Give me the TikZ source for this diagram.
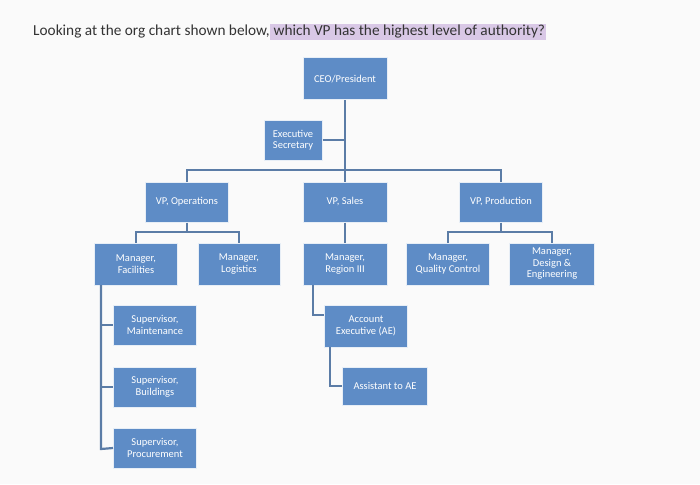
\documentclass[tikz,border=0pt]{standalone}
\usepackage{fontspec}
\setmainfont{Carlito}
\definecolor{boxb}{HTML}{5E8CC6}
\definecolor{lineb}{HTML}{5B7CA6}
\definecolor{hl}{HTML}{D9C8E6}
\begin{document}
\begin{tikzpicture}[x=1pt,y=-1pt,
  box/.style={draw=white!85!boxb,line width=1pt,fill=boxb,text=white,font=\fontsize{10.5}{11.5}\selectfont,align=center,minimum height=40pt,inner sep=1pt},
  ln/.style={draw=lineb,line width=2.2pt}]
\fill[white!96!gray] (0,0) rectangle (700,484);
\node[anchor=west,font=\fontsize{15.3}{17}\selectfont,text=black!80,inner sep=0] (q) at (33,32) {Looking at the org chart shown below,};
\node[anchor=west,font=\fontsize{15.3}{17}\selectfont,text=black!80,fill=hl,inner sep=1pt] (qh) at (q.east) {\,which VP has the highest level of authority?};
\node[box,minimum width=84pt,minimum height=42pt] (ceo) at (345,79) {CEO/President};
\node[box,minimum width=58pt] (es) at (293,140) {Executive\\Secretary};
\node[box,minimum width=83pt] (vo) at (187,202) {VP, Operations};
\node[box,minimum width=84pt] (vs) at (345,202) {VP, Sales};
\node[box,minimum width=83pt] (vp) at (501,202) {VP, Production};
\node[box,minimum width=83pt,minimum height=42pt] (mf) at (136,264) {Manager,\\Facilities};
\node[box,minimum width=82pt,minimum height=42pt] (ml) at (239,264) {Manager,\\Logistics};
\node[box,minimum width=84pt,minimum height=42pt] (mr) at (345,264) {Manager,\\Region III};
\node[box,minimum width=83pt,minimum height=42pt] (mq) at (448,264) {Manager,\\Quality Control};
\node[box,minimum width=85pt,minimum height=42pt] (md) at (552,264) {Manager,\\Design \&\\Engineering};
\node[box,minimum width=83pt] (sm) at (155,325) {Supervisor,\\Maintenance};
\node[box,minimum width=83pt] (sb) at (155,387) {Supervisor,\\Buildings};
\node[box,minimum width=83pt] (sp) at (155,448) {Supervisor,\\Procurement};
\node[box,minimum width=83pt,minimum height=42pt] (ae) at (366,326) {Account\\Executive (AE)};
\node[box,minimum width=85pt,minimum height=38pt] (as) at (385,386) {Assistant to AE};
\coordinate (j) at (345,170);
\draw[ln] (ceo.south) -- (j);
\draw[ln] (es.east) -- (345,140);
\draw[ln] (vo.north) -- (187,170) -- (vp.north |- j) -- (vp.north);
\draw[ln] (j) -- (vs.north);
\draw[ln] (vo.south) -- (187,232);
\draw[ln] (mf.north) -- (136,232) -- (239,232) -- (ml.north);
\draw[ln] (vs.south) -- (mr.north);
\draw[ln] (vp.south) -- (501,232);
\draw[ln] (mq.north) -- (448,232) -- (552,232) -- (md.north);
\draw[ln] (101,285) -- (101,449) -- (sp.west);
\draw[ln] (101,325) -- (sm.west);
\draw[ln] (101,387) -- (sb.west);
\draw[ln] (313,285) -- (313,315) -- (ae.west |- 0,315);
\draw[ln] (330,347) -- (330,386) -- (as.west);
\end{tikzpicture}
\end{document}
